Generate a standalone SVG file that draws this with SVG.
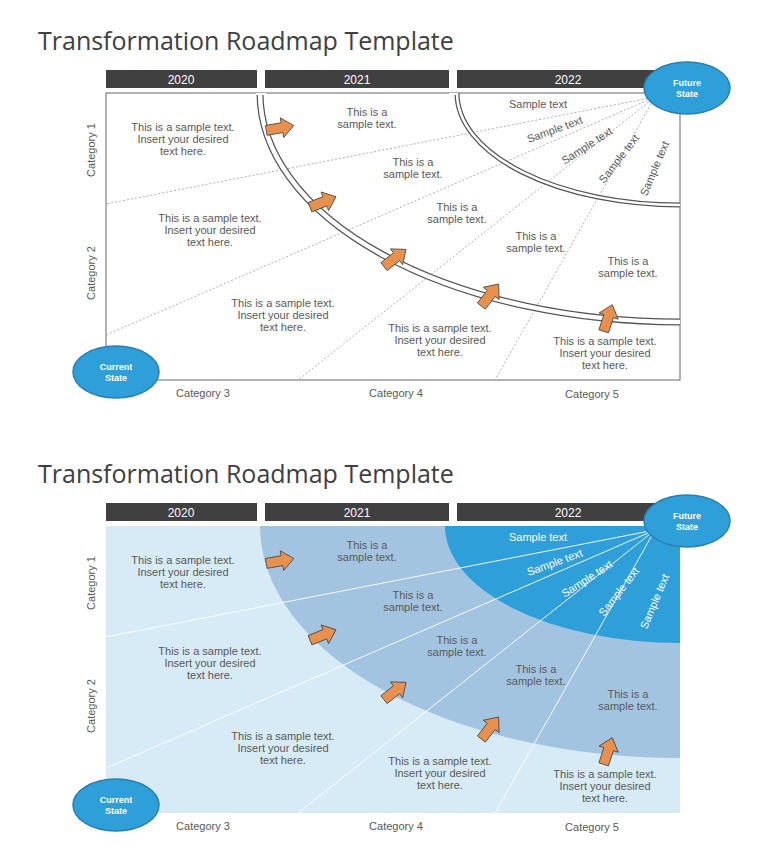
<svg xmlns="http://www.w3.org/2000/svg" xmlns:xlink="http://www.w3.org/1999/xlink" width="768" height="866" viewBox="0 0 768 866">
<style>
.title{font-family:"Open Sans","Liberation Sans",sans-serif;font-size:25px;fill:#404040}
.hdr{fill:#404040}
.ht{font-family:"Liberation Sans",Arial,sans-serif;font-size:12px;fill:#fff;text-anchor:middle}
.t{font-family:"Liberation Sans",Arial,sans-serif;font-size:11px;fill:#595959;text-anchor:middle}
.cat{font-family:"Liberation Sans",Arial,sans-serif;font-size:11px;fill:#595959;text-anchor:middle}
.st{font-family:"Liberation Sans",Arial,sans-serif;font-size:11px;text-anchor:middle}
.oval{fill:#2f9fda;stroke:#2b7fb0;stroke-width:1.5}
.ot{font-family:"Liberation Sans",Arial,sans-serif;font-size:9px;font-weight:bold;fill:#fff;text-anchor:middle}
.arr{fill:#e8914f;stroke:#444;stroke-width:0.8}
</style>
<defs>
<path id="ar" d="M-14,-5 L2,-5 L2,-10 L14,0 L2,10 L2,5 L-14,5 Z"/>
<clipPath id="box"><rect x="106" y="93" width="574" height="287"/></clipPath>
<g id="texts">
<text class="t" x="183" y="131">This is a sample text.</text><text class="t" x="183" y="143">Insert your desired</text><text class="t" x="183" y="155">text here.</text>
<text class="t" x="367" y="116">This is a</text><text class="t" x="367" y="128">sample text.</text>
<text class="t" x="413" y="166">This is a</text><text class="t" x="413" y="178">sample text.</text>
<text class="t" x="457" y="211">This is a</text><text class="t" x="457" y="223">sample text.</text>
<text class="t" x="536" y="240">This is a</text><text class="t" x="536" y="252">sample text.</text>
<text class="t" x="628" y="265">This is a</text><text class="t" x="628" y="277">sample text.</text>
<text class="t" x="210" y="222">This is a sample text.</text><text class="t" x="210" y="234">Insert your desired</text><text class="t" x="210" y="246">text here.</text>
<text class="t" x="283" y="307">This is a sample text.</text><text class="t" x="283" y="319">Insert your desired</text><text class="t" x="283" y="331">text here.</text>
<text class="t" x="440" y="332">This is a sample text.</text><text class="t" x="440" y="344">Insert your desired</text><text class="t" x="440" y="356">text here.</text>
<text class="t" x="605" y="345">This is a sample text.</text><text class="t" x="605" y="357">Insert your desired</text><text class="t" x="605" y="369">text here.</text>
<text class="cat" transform="translate(95,150) rotate(-90)">Category 1</text>
<text class="cat" transform="translate(95,273) rotate(-90)">Category 2</text>
<text class="cat" x="203" y="397">Category 3</text>
<text class="cat" x="396" y="397">Category 4</text>
<text class="cat" x="592" y="398">Category 5</text>
<use href="#ar" class="arr" transform="translate(280,128) rotate(-10)"/>
<use href="#ar" class="arr" transform="translate(323,202) rotate(-22)"/>
<use href="#ar" class="arr" transform="translate(395,258) rotate(-38)"/>
<use href="#ar" class="arr" transform="translate(490,295) rotate(-52)"/>
<use href="#ar" class="arr" transform="translate(608,318) rotate(-72)"/>
<rect class="hdr" x="106" y="70" width="151" height="18"/><text class="ht" x="181" y="84">2020</text>
<rect class="hdr" x="265" y="70" width="184" height="18"/><text class="ht" x="357" y="84">2021</text>
<rect class="hdr" x="457" y="70" width="200" height="18"/><text class="ht" x="568" y="84">2022</text>
</g>
</defs>
<text class="title" x="38" y="50">Transformation Roadmap Template</text>
<g id="panel1">
<rect x="106" y="93" width="574" height="287" fill="#fff" stroke="#666" stroke-width="1"/>
<g id="connectors" stroke="#999" stroke-width="0.8" stroke-dasharray="2,2" fill="none">
<line x1="655" y1="97" x2="106" y2="204"/>
<line x1="655" y1="97" x2="106" y2="335"/>
<line x1="655" y1="97" x2="298" y2="380"/>
<line x1="655" y1="97" x2="495" y2="380"/>
</g>
<g fill="none" clip-path="url(#box)">
<path d="M260,93 A420,229 0 0 0 680,322" stroke="#555" stroke-width="7"/>
<path d="M260,93 A420,229 0 0 0 680,322" stroke="#fff" stroke-width="4.5"/>
<path d="M457,93 A223,112 0 0 0 680,205" stroke="#555" stroke-width="5"/>
<path d="M457,93 A223,112 0 0 0 680,205" stroke="#fff" stroke-width="2.5"/>
<rect x="256" y="90" width="10" height="5" fill="#fff"/>
<rect x="449" y="90" width="8" height="5" fill="#fff"/>
</g>
<g fill="#595959">
<text class="st" x="538" y="108">Sample text</text>
<text class="st" transform="translate(556,133) rotate(-20)">Sample text</text>
<text class="st" transform="translate(589,149) rotate(-33)">Sample text</text>
<text class="st" transform="translate(622,161) rotate(-52)">Sample text</text>
<text class="st" transform="translate(658,170) rotate(-67)">Sample text</text>
</g>
<use href="#texts"/>
<g id="future1"><ellipse class="oval" cx="687" cy="88" rx="43" ry="26"/><text class="ot" x="687" y="86">Future</text><text class="ot" x="687" y="97">State</text></g>
<g id="current1"><ellipse class="oval" cx="116" cy="372" rx="43" ry="26"/><text class="ot" x="116" y="370">Current</text><text class="ot" x="116" y="381">State</text></g>
</g>
<g id="panel2">
<text class="title" x="38" y="483">Transformation Roadmap Template</text>
<g transform="translate(0,433)">
<g clip-path="url(#box)">
<rect x="106" y="93" width="574" height="287" fill="#d6ebf6"/>
<ellipse cx="680" cy="93" rx="420" ry="232" fill="#a3c4e0"/>
<ellipse cx="680" cy="93" rx="235" ry="117" fill="#2f9fda"/>
<g stroke="#fff" stroke-width="0.9" fill="none">
<line x1="655" y1="97" x2="106" y2="204"/>
<line x1="655" y1="97" x2="106" y2="335"/>
<line x1="655" y1="97" x2="298" y2="380"/>
<line x1="655" y1="97" x2="495" y2="380"/>
</g>
</g>
<g fill="#fff">
<text class="st" x="538" y="108">Sample text</text>
<text class="st" transform="translate(556,133) rotate(-20)">Sample text</text>
<text class="st" transform="translate(589,149) rotate(-33)">Sample text</text>
<text class="st" transform="translate(622,161) rotate(-52)">Sample text</text>
<text class="st" transform="translate(658,170) rotate(-67)">Sample text</text>
</g>
<use href="#texts"/>
<g id="future2"><ellipse class="oval" cx="687" cy="88" rx="43" ry="26"/><text class="ot" x="687" y="86">Future</text><text class="ot" x="687" y="97">State</text></g>
<g id="current2"><ellipse class="oval" cx="116" cy="372" rx="43" ry="26"/><text class="ot" x="116" y="370">Current</text><text class="ot" x="116" y="381">State</text></g>
</g>
</g>
</svg>
